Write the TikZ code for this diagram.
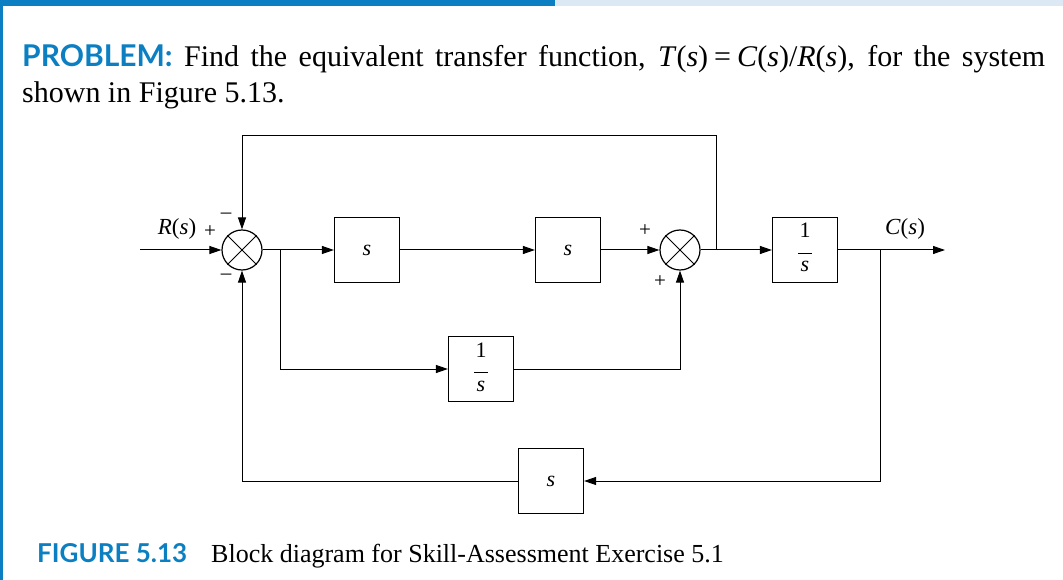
\documentclass[tikz,border=0pt]{standalone}
\usepackage{fontspec}
\setmainfont{Liberation Serif}
\newfontfamily\hdfont{Lato}
\usetikzlibrary{arrows.meta}
\definecolor{pblue}{HTML}{0B7FC1}
\definecolor{lblue}{HTML}{DCE8F4}
\newcommand{\iv}[1]{\textit{#1}}
\newcommand{\fr}{\begin{tabular}{@{}c@{}}1\\[-9pt]\rule{14pt}{0.9pt}\\[-7pt]\iv{s}\end{tabular}}
\begin{document}
\begin{tikzpicture}[x=1pt,y=-1pt,
  blk/.style={draw,line width=1.2pt,minimum width=65pt,minimum height=65pt,inner sep=0pt,font=\fontsize{22}{25}\selectfont},
  sumj/.style={draw,line width=1.2pt,circle,minimum size=40pt,inner sep=0pt},
  sig/.style={line width=1pt},
  ar/.style={sig,-{Triangle[length=12pt,width=8pt]}},
  lab/.style={font=\fontsize{23}{26}\selectfont,inner sep=0pt},
  sg/.style={font=\fontsize{21}{24}\selectfont,inner sep=0pt}]
\useasboundingbox (0,0) rectangle (1063,580);
\fill[pblue] (0,0) rectangle (555,6);
\fill[lblue] (555,0) rectangle (1063,6);
\fill[pblue] (0,0) rectangle (3,580);
\node[anchor=north west,inner sep=0pt,text width=1023pt,align=justify,font=\fontsize{30}{36}\selectfont] (prob) at (22,44)
 {{\hdfont\bfseries\color{pblue}PROBLEM:} Find the equivalent transfer function, \iv{T}(\iv{s})\hspace{6pt}=\hspace{6pt}\iv{C}(\iv{s})/\iv{R}(\iv{s}), for the system shown in Figure 5.13.};
\node[sumj] (s1) at (242,250) {};
\node[sumj] (s2) at (680,250) {};
\foreach \n in {s1,s2}{\draw[line width=1pt] (\n.north west)--(\n.south east) (\n.north east)--(\n.south west);}
\node[blk] (b1) at (367,250) {\iv{s}};
\node[blk] (b2) at (568,250) {\iv{s}};
\node[blk] (b3) at (805,250) {\fr};
\node[blk] (b4) at (481,369) {\fr};
\node[blk] (b5) at (551,481) {\iv{s}};
\coordinate (in) at (140,250);
\coordinate (out) at (945,250);
\coordinate (p1) at (280,250);
\coordinate (p2) at (716,250);
\coordinate (p3) at (880,250);
\draw[ar] (in) -- (s1);
\draw[ar] (s1) -- (b1);
\draw[ar] (b1) -- (b2);
\draw[ar] (b2) -- (s2);
\draw[ar] (s2) -- (b3);
\draw[ar] (b3) -- (out);
\draw[ar] (p2) |- (242,136) -- (s1);
\draw[ar] (p1) |- (b4);
\draw[ar] (b4) -| (s2);
\draw[ar] (p3) |- (b5);
\draw[ar] (b5) -| (s1);
\node[lab] (rl) at (177,229) {\iv{R}(\iv{s})};
\node[sg] at (210,232) {+};
\node[sg] at (226,216) {--};
\node[sg] at (226,277) {--};
\node[sg] at (645,231) {+};
\node[sg] at (660,282) {+};
\node[lab] (cl) at (905,229) {\iv{C}(\iv{s})};
\node[anchor=west,inner sep=0pt,font=\fontsize{26}{30}\selectfont] (cap) at (37,556)
 {{\hdfont\bfseries\color{pblue}FIGURE 5.13}\hspace{24pt}Block diagram for Skill-Assessment Exercise 5.1};
\end{tikzpicture}
\end{document}
